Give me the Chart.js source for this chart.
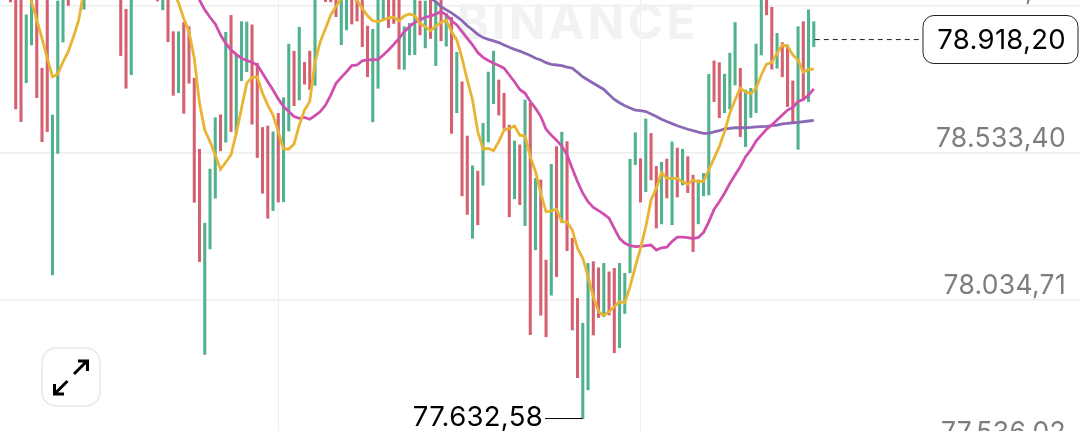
<!DOCTYPE html>
<html>
<head>
<meta charset="utf-8">
<title>BTC</title>
<style>
  html, body { margin: 0; padding: 0; background: #fff; overflow: hidden; }
  canvas { display: block; }
</style>
<script src="https://cdn.jsdelivr.net/npm/chart.js@4/dist/chart.umd.min.js"></script>
</head>
<body>
<canvas id="priceChart" width="1080" height="431"></canvas>
<script>
// Off-chart tops are cut by the picture, so they just get a value above the axis
const T = 79120;

const barHigh = [T,T,T,79002,T,T,78821,T,78662,79049,T,T,null,null,T,null,null,null,null,null,null,T,79021,T,null,null,null,null,T,T,T,78945,78945,78976,78962,78787,78546,78295,78479,78653,78663,78943,79000,78866,78979,78978,78968,78838,78620,78625,78605,78668,78721,78903,78879,78960,78841,78879,T,null,T,T,T,T,T,T,T,T,78964,78953,T,T,T,T,T,78962,78973,T,79049,79049,T,79047,T,79007,78994,78875,78775,78591,78490,78472,78634,78808,78879,78781,78736,78628,78574,78561,78713,78702,78447,78442,78170,78495,78555,78604,78572,78244,78040,77956,78159,78165,78144,78159,78130,78142,78159,78125,78512,78602,78514,78649,78600,78488,78502,78513,78571,78550,78546,78521,78458,78442,78464,78800,78846,78840,78801,78872,78976,78821,78747,78753,78903,T,T,79028,78939,78908,78900,78778,78962,78979,79019,78979];
const barLow = [79046,78683,78640,78772,78900,78721,78572,78606,78120,78532,78910,79034,null,null,79021,null,null,null,null,null,null,78864,78753,78799,null,null,null,null,79049,79019,78911,78729,78738,78668,78770,78366,78165,77850,78208,78380,78541,78570,78606,78600,78779,78809,78631,78518,78397,78312,78338,78367,78368,78608,78694,78713,78767,78749,78763,null,79047,79046,78996,78901,78951,78971,78981,78894,78792,78639,78753,78985,78959,78973,78818,78817,78866,78867,78934,78890,78922,78830,78914,78896,78600,78670,78388,78325,78244,78290,78424,78571,78701,78662,78617,78317,78378,78358,78287,77917,78205,77983,77910,78051,78114,78298,78202,77933,77771,77632.58,77730,77916,77975,77978,77984,77856,77873,77989,78127,78494,78367,78402,78442,78279,78293,78381,78290,78384,78425,78399,78199,78293,78388,78391,78708,78653,78670,78682,78764,78589,78555,78654,78670,78866,79002,78818,78821,78792,78691,78634,78546,78713,78708,78894];
// 1 = green bar, 0 = red bar
const barUp = [0,0,0,1,1,0,0,0,1,1,1,0,0,0,1,0,0,0,0,0,0,0,0,1,0,0,0,0,0,1,0,0,1,0,0,0,0,1,1,1,0,1,0,1,1,1,0,0,0,0,1,0,1,1,0,1,0,0,1,0,0,0,0,1,1,0,0,0,0,1,1,1,0,0,0,1,1,1,0,1,0,1,0,1,0,1,0,0,1,0,1,1,1,0,0,0,1,0,1,0,1,0,0,1,0,1,0,0,0,1,1,0,0,1,0,0,1,1,1,1,0,1,0,0,1,0,1,0,1,0,0,1,1,1,0,0,1,1,1,0,1,1,1,1,0,0,1,0,0,0,1,0,1,1];

const maYellow = [null,null,null,79098,79047,78985,78922,78855,78792,78801,78843,78877,78928,78985,79086,null,null,null,null,null,null,null,null,null,null,null,null,null,null,null,null,79081,79043,78990,78945,78855,78702,78611,78572,78527,78478,78502,78527,78600,78685,78770,78789,78792,78736,78696,78662,78606,78547,78547,78564,78628,78679,78708,78843,78911,78956,79002,79030,79058,79075,79061,79052,79024,78999,78982,78979,78985,78992,78994,78982,78998,79005,78999,78973,78962,78948,78964,78976,78985,78945,78917,78855,78781,78713,78606,78547,78549,78541,78572,78611,78617,78625,78594,78591,78521,78470,78397,78334,78337,78343,78300,78300,78272,78210,78176,78114,78046,77995,77982,77995,78012,78029,78026,78080,78148,78210,78283,78374,78414,78467,78447,78447,78447,78436,78428,78442,78436,78438,78476,78515,78555,78606,78668,78713,78753,78741,78734,78753,78798,78835,78840,78872,78900,78896,78866,78849,78807,78817,78818];
const maMagenta = [null,null,null,null,null,null,null,null,null,null,null,null,null,null,null,null,null,null,null,null,null,null,null,null,null,null,null,null,null,null,null,null,null,null,null,79081,79052,79019,78994,78971,78934,78905,78883,78868,78855,78847,78841,78832,78804,78775,78747,78717,78691,78674,78657,78651,78654,78648,78660,78674,78696,78730,78770,78790,78809,78830,78832,78846,78849,78849,78851,78866,78883,78902,78922,78945,78962,78977,78985,78994,78998,79005,79013,79002,78982,78968,78945,78922,78900,78874,78858,78847,78838,78830,78821,78798,78775,78749,78736,78708,78685,78657,78614,78594,78577,78557,78527,78481,78436,78397,78368,78349,78338,78326,78312,78278,78244,78227,78219,78216,78217,78219,78221,78204,78212,78214,78233,78248,78248,78246,78243,78247,78264,78300,78342,78368,78397,78430,78459,78487,78521,78544,78574,78594,78614,78628,78645,78662,78679,78688,78708,78715,78730,78751];
const maPurple = [null,null,null,null,null,null,null,null,null,null,null,null,null,null,null,null,null,null,null,null,null,null,null,null,null,null,null,null,null,null,null,null,null,null,null,null,null,null,null,null,null,null,null,null,null,null,null,null,null,null,null,null,null,null,null,null,null,null,null,null,null,null,null,null,null,null,null,null,null,null,null,null,null,null,null,null,null,null,null,null,79058,79047,79030,79019,79009,78996,78982,78965,78951,78936,78925,78919,78914,78908,78900,78892,78885,78879,78872,78864,78855,78849,78840,78834,78832,78830,78825,78821,78807,78792,78781,78770,78760,78749,78732,78715,78704,78694,78686,78679,78677,78674,78666,78657,78648,78640,78633,78626,78620,78614,78609,78604,78600,78600,78605,78609,78615,78617,78619,78619,78619,78620,78622,78623,78624,78626,78628,78632,78634,78636,78637,78640,78642,78644];

const tickValues = [79032.09, 78533.40, 78034.71, 77536.02];
const tickLabels = ["79.032,09", "78.533,40", "78.034,71", "77.536,02"];
const timeGridBars = [51, 120];

const lastPrice = 78918.20;
const lastPriceLabel = "78.918,20";
const lowPrice = 77632.58;
const lowPriceLabel = "77.632,58";
const lowBarIndex = 109;
const lastBarIndex = 153;

const GREEN = "#4fb18d";
const RED = "#d5606f";
const FONT = "Inter, sans-serif";

function toPoints(values) {
    return values.map((v, i) => ({ x: i, y: v }));
}

const barPoints = [];
barHigh.forEach((h, i) => {
    if (h === null || barLow[i] === null) return;
    barPoints.push({ x: i, y: [barLow[i], h], up: barUp[i] === 1 });
});

// Last price tag, low marker, watermark and the expand button
const overlayPlugin = {
    id: "overlay",
    beforeDraw(chart) {
        chart.ctx.letterSpacing = "0.3px";
    },
    beforeDatasetsDraw(chart) {
        const ctx = chart.ctx;
        ctx.save();
        ctx.fillStyle = "#f2f2f2";
        ctx.font = "700 48px " + FONT;
        ctx.textAlign = "left";
        ctx.textBaseline = "middle";
        ctx.letterSpacing = "3.3px";
        ctx.fillText("BINANCE", 457, 25);
        ctx.restore();
    },
    afterDraw(chart) {
        const ctx = chart.ctx;
        const x = chart.scales.x;
        const y = chart.scales.y;
        ctx.save();

        // last price dashed line and tag
        const lastY = y.getPixelForValue(lastPrice);
        ctx.strokeStyle = "#222";
        ctx.lineWidth = 1;
        ctx.setLineDash([5, 4]);
        ctx.beginPath();
        ctx.moveTo(x.getPixelForValue(lastBarIndex) + 1, lastY);
        ctx.lineTo(923, lastY);
        ctx.stroke();
        ctx.setLineDash([]);

        ctx.fillStyle = "#fff";
        ctx.beginPath();
        ctx.roundRect(923, 15.5, 155, 48, 11);
        ctx.fill();
        ctx.stroke();
        ctx.fillStyle = "#000";
        ctx.font = "27.5px " + FONT;
        ctx.textAlign = "right";
        ctx.textBaseline = "middle";
        ctx.fillText(lastPriceLabel, 1066, 41);

        // low marker
        const lowY = y.getPixelForValue(lowPrice);
        ctx.strokeStyle = "#000";
        ctx.beginPath();
        ctx.moveTo(545, lowY);
        ctx.lineTo(x.getPixelForValue(lowBarIndex), lowY);
        ctx.stroke();
        ctx.fillText(lowPriceLabel, 543, lowY - 1);

        // expand button
        ctx.strokeStyle = "#ececec";
        ctx.lineWidth = 2;
        ctx.fillStyle = "#fff";
        ctx.beginPath();
        ctx.roundRect(42, 348, 58, 58, 14);
        ctx.fill();
        ctx.stroke();
        ctx.strokeStyle = "#000";
        ctx.lineWidth = 3;
        ctx.beginPath();
        ctx.moveTo(74, 374);
        ctx.lineTo(87.5, 360.5);
        ctx.moveTo(78, 361);
        ctx.lineTo(87.5, 361);
        ctx.lineTo(87.5, 371);
        ctx.moveTo(67.5, 381);
        ctx.lineTo(54.5, 394);
        ctx.moveTo(54.5, 384);
        ctx.lineTo(54.5, 394);
        ctx.lineTo(64, 394);
        ctx.stroke();

        ctx.restore();
    }
};

function lineDataset(label, values, color, order) {
    return {
        type: "line",
        label: label,
        data: toPoints(values),
        borderColor: color,
        borderWidth: 2.8,
        pointRadius: 0,
        tension: 0,
        spanGaps: false,
        order: order
    };
}

new Chart(document.getElementById("priceChart").getContext("2d"), {
    type: "bar",
    data: {
        datasets: [
            {
                label: "Price",
                data: barPoints,
                barThickness: 2.4,
                backgroundColor: ctx => (ctx.raw && ctx.raw.up ? GREEN : RED),
                borderWidth: 0,
                order: 4
            },
            lineDataset("MA99", maPurple, "#8a68b6", 3),
            lineDataset("MA25", maMagenta, "#d04fae", 2),
            lineDataset("MA7", maYellow, "#e8b533", 1)
        ]
    },
    options: {
        responsive: false,
        animation: false,
        devicePixelRatio: 1,
        layout: { padding: 0 },
        plugins: {
            legend: { display: false },
            tooltip: { enabled: false }
        },
        scales: {
            x: {
                type: "linear",
                offset: false,
                min: -2,
                max: 203.7,
                afterBuildTicks: scale => {
                    scale.ticks = timeGridBars.map(v => ({ value: v }));
                },
                afterFit: scale => { scale.height = 0; },
                grid: { color: "#eeeeee", offset: false, drawTicks: false },
                border: { display: false },
                ticks: { display: false }
            },
            y: {
                position: "right",
                min: 77590.3,
                max: 79052.46,
                afterBuildTicks: scale => {
                    scale.ticks = tickValues.map(v => ({ value: v }));
                },
                afterFit: scale => {
                    scale.width = 0;
                    scale.paddingTop = 0;
                    scale.paddingBottom = 0;
                },
                grid: { color: "#eeeeee", lineWidth: 1.5, drawTicks: false },
                border: { display: false },
                ticks: {
                    mirror: true,
                    autoSkip: false,
                    padding: -14,
                    labelOffset: -14,
                    color: "#7d7d7d",
                    font: { family: FONT, size: 26.5 },
                    callback: (v, i) => tickLabels[i]
                }
            }
        }
    },
    plugins: [overlayPlugin]
});
</script>
</body>
</html>
